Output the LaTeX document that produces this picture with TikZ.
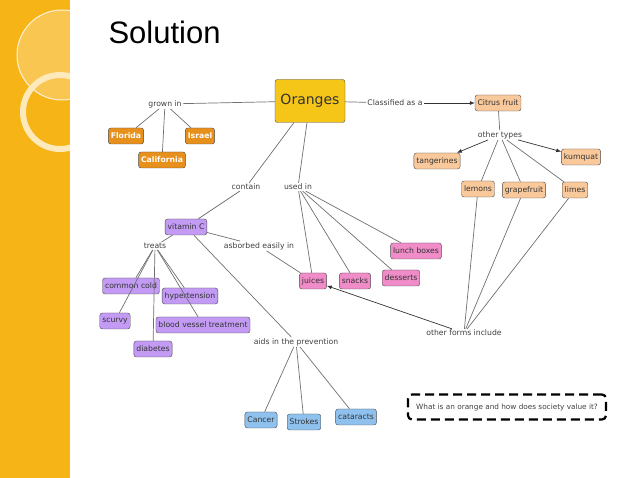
\documentclass[tikz,border=0pt]{standalone}
\usepackage{fontspec}
\setmainfont{DejaVu Sans}
\newfontfamily\titlef{Liberation Sans}
\usetikzlibrary{arrows.meta}
\definecolor{strip}{HTML}{F7B417}
\definecolor{ora}{HTML}{F5C518}
\definecolor{dor}{HTML}{E8901C}
\definecolor{pch}{HTML}{F9C89B}
\definecolor{pur}{HTML}{C39BF5}
\definecolor{pnk}{HTML}{F08CC8}
\definecolor{blu}{HTML}{8FC1EE}
\definecolor{ln}{HTML}{707070}
\begin{document}
\begin{tikzpicture}[x=1pt,y=-1pt,
 box/.style={draw=black!70,rounded corners=2.5pt,font=\fontsize{7.7}{9}\selectfont,inner sep=2.5pt,minimum height=16pt,text=black!80},
 lab/.style={font=\fontsize{7.7}{9}\selectfont,text=black!75,inner sep=1pt,fill=white},
 e/.style={draw=ln,line width=0.7pt},
 a/.style={e,-{Latex[length=5pt,width=4pt]},draw=black!80}]
\useasboundingbox (0,0) rectangle (638,478);
\fill[white] (0,0) rectangle (638,478);
\fill[strip] (0,0) rectangle (70,478);
\begin{scope}
\clip (0,0) rectangle (70,478);
\draw[white!80!strip,line width=1pt] (62,55) circle (45);
\fill[white,opacity=0.25] (62,55) circle (45);
\draw[white!70!strip,line width=6pt] (60,112) circle (37);
\end{scope}
\node[font=\titlef\fontsize{31}{34}\selectfont,anchor=west] (title) at (105,32) {Solution};
% nodes
\node[box,fill=ora,minimum width=70pt,minimum height=43pt,font=\fontsize{14}{16}\selectfont] (or) at (310,101) {Oranges};
\node[lab] (gi) at (165,104) {grown in};
\node[box,fill=dor,text=white,font=\fontsize{7.7}{9}\selectfont\bfseries] (fl) at (126,136) {Florida};
\node[box,fill=dor,text=white,font=\fontsize{7.7}{9}\selectfont\bfseries] (is) at (200,136) {Israel};
\node[box,fill=dor,text=white,font=\fontsize{7.7}{9}\selectfont\bfseries] (ca) at (162,160) {California};
\node[lab] (cl) at (395,103) {Classified as a};
\node[box,fill=pch] (ci) at (498,103) {Citrus fruit};
\node[lab] (ot) at (500,135) {other types};
\node[box,fill=pch] (ta) at (437,161) {tangerines};
\node[box,fill=pch] (ku) at (581,157) {kumquat};
\node[box,fill=pch] (le) at (478,189) {lemons};
\node[box,fill=pch] (gr) at (524,190) {grapefruit};
\node[box,fill=pch] (li) at (575,190) {limes};
\node[lab] (co) at (246,187) {contain};
\node[lab] (ui) at (298,187) {used in};
\node[box,fill=pur] (vc) at (186,227) {vitamin C};
\node[lab] (tr) at (155,246) {treats};
\node[lab] (ab) at (259,246) {asborbed easily in};
\node[box,fill=pur] (cc) at (131,286) {common cold};
\node[box,fill=pur] (hy) at (190,296) {hypertension};
\node[box,fill=pur] (sc) at (115,321) {scurvy};
\node[box,fill=pur] (bv) at (203,325) {blood vessel treatment};
\node[box,fill=pur] (di) at (153,349) {diabetes};
\node[box,fill=pnk] (ju) at (313,281) {juices};
\node[box,fill=pnk] (sn) at (355,281) {snacks};
\node[box,fill=pnk] (de) at (401,278) {desserts};
\node[box,fill=pnk] (lb) at (416,251) {lunch boxes};
\node[lab] (of) at (464,333) {other forms include};
\node[lab] (ap) at (296,342) {aids in the prevention};
\node[box,fill=blu] (cn) at (261,420) {Cancer};
\node[box,fill=blu] (st) at (304,422) {Strokes};
\node[box,fill=blu] (ct) at (356,417) {cataracts};
\node[draw=black,line width=2.2pt,dash pattern=on 9pt off 5pt,rounded corners=4pt,minimum width=198pt,minimum height=25pt,font=\fontsize{7.3}{9}\selectfont,text=black!75] (q) at (507,407) {What is an orange and how does society value it?};
% edges
\draw[e] (or) -- (gi);
\draw[e] (gi) -- (fl); \draw[e] (gi) -- (is); \draw[e] (gi) -- (ca);
\draw[e] (or) -- (cl); \draw[a] (cl) -- (ci);
\draw[e] (ci) -- (ot);
\draw[a] (ot) -- (ta); \draw[a] (ot) -- (ku);
\draw[e] (ot) -- (le); \draw[e] (ot) -- (gr); \draw[e] (ot) -- (li);
\draw[e] (or) -- (co); \draw[e] (co) -- (vc);
\draw[e] (or) -- (ui);
\foreach \t in {ju,sn,de,lb} \draw[e] (ui) -- (\t);
\draw[e] (vc) -- (tr);
\foreach \t in {cc,hy,sc,bv,di} \draw[e] (tr) -- (\t);
\draw[e] (vc) -- (ab); \draw[e] (ab) -- (ju);
\draw[e] (vc) -- (ap);
\foreach \t in {cn,st,ct} \draw[e] (ap) -- (\t);
\foreach \t in {le,gr,li} \draw[e] (\t) -- (of);
\draw[a] (of) -- (ju);
\end{tikzpicture}
\end{document}
